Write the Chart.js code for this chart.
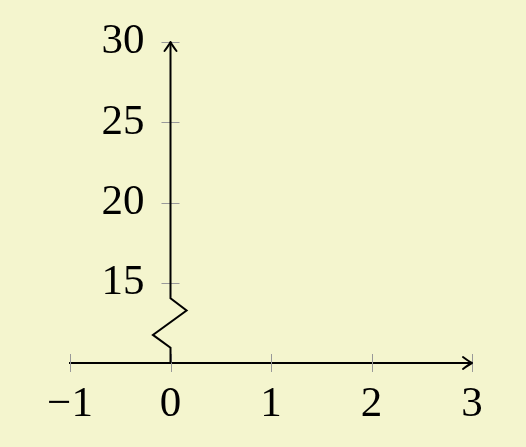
<!DOCTYPE html>
<html lang="en">
<head>
  <meta charset="UTF-8">
  <title>Axis with break</title>
  <script src="https://cdn.jsdelivr.net/npm/chart.js"></script>
  <style>
    html, body { margin: 0; padding: 0; background: #f4f5ce; }
    #wrap { width: 526px; height: 447px; }
  </style>
</head>
<body>
  <div id="wrap"><canvas id="axisChart"></canvas></div>

  <script>
    // tick values on both axes
    const xTicks = [-1, 0, 1, 2, 3];
    const yTicks = [15, 20, 25, 30];

    // y axis line drawn as a path, with the zigzag break near the bottom
    const lineX = [0, 0, -0.175, 0.16, 0, 0];
    const lineY = [10, 10.95, 11.75, 13.27, 14.03, 30];

    const points = lineX.map((x, i) => ({ x: x, y: lineY[i] }));

    // grey tick marks crossing the axes + arrow heads
    const axisDecor = {
      id: 'axisDecor',
      beforeDatasetsDraw(chart) {
        const ctx = chart.ctx;
        const sx = chart.scales.x, sy = chart.scales.y;
        const x0 = sx.getPixelForValue(0);
        const y0 = sy.getPixelForValue(10);
        ctx.save();
        ctx.strokeStyle = '#999999';
        ctx.lineWidth = 1;
        ctx.beginPath();
        xTicks.forEach(v => {
          const px = Math.round(sx.getPixelForValue(v)) + 0.5;
          ctx.moveTo(px, y0 - 9);
          ctx.lineTo(px, y0 + 9);
        });
        yTicks.forEach(v => {
          const py = Math.round(sy.getPixelForValue(v)) + 0.5;
          ctx.moveTo(x0 - 9, py);
          ctx.lineTo(x0 + 9, py);
        });
        ctx.stroke();
        ctx.restore();
      },
      afterDatasetsDraw(chart) {
        const ctx = chart.ctx;
        const sx = chart.scales.x, sy = chart.scales.y;
        const arrow = (tx, ty, ang) => {
          ctx.save();
          ctx.translate(tx, ty);
          ctx.rotate(ang);
          ctx.strokeStyle = '#000';
          ctx.lineWidth = 2;
          ctx.lineCap = 'round';
          ctx.lineJoin = 'round';
          ctx.beginPath();
          ctx.moveTo(-9, -6);
          ctx.quadraticCurveTo(-3, -1.5, 0, 0);
          ctx.quadraticCurveTo(-3, 1.5, -9, 6);
          ctx.stroke();
          ctx.restore();
        };
        arrow(sx.getPixelForValue(3), sy.getPixelForValue(10), 0);
        arrow(sx.getPixelForValue(0), sy.getPixelForValue(30), -Math.PI / 2);
      }
    };

    const tickFont = { family: '"Liberation Serif", serif', size: 43 };

    new Chart(document.getElementById('axisChart'), {
      type: 'scatter',
      data: {
        datasets: [{
          data: points,
          showLine: true,
          borderColor: '#000',
          borderWidth: 2,
          pointRadius: 0,
          tension: 0,
          clip: false
        }]
      },
      options: {
        responsive: true,
        maintainAspectRatio: false,
        animation: false,
        layout: { padding: { left: 70, right: 54, top: 42, bottom: 0 } },
        plugins: { legend: { display: false }, tooltip: { enabled: false } },
        scales: {
          x: {
            type: 'linear',
            min: -1,
            max: 3,
            grid: { display: false },
            border: { display: true, color: '#000', width: 2 },
            ticks: {
              stepSize: 1,
              padding: 8,
              color: '#000',
              font: tickFont,
              callback: v => String(v).replace('-', '\u2212')
            },
            afterFit: s => { s.height = 84; }
          },
          y: {
            type: 'linear',
            position: { x: -0.259 },
            min: 10,
            max: 30,
            grid: { display: false },
            border: { display: false },
            ticks: {
              stepSize: 5,
              color: '#000',
              font: tickFont,
              callback: v => (yTicks.includes(v) ? String(v) : '')
            },
            afterFit: s => { s.width = 0; }
          }
        }
      },
      plugins: [axisDecor]
    });
  </script>
</body>
</html>
